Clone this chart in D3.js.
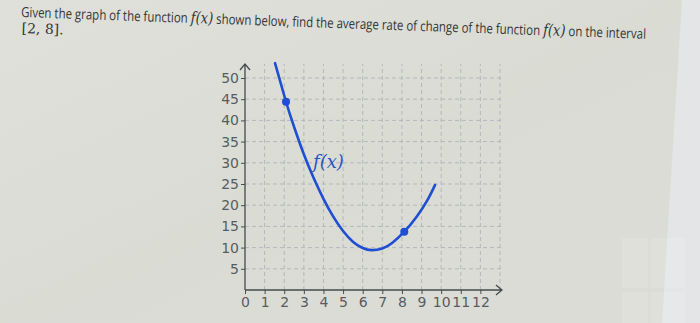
<!DOCTYPE html>
<html>
<head>
<meta charset="utf-8">
<script src="https://cdn.jsdelivr.net/npm/d3@7"></script>
<style>
  html, body { margin: 0; padding: 0; background: #dcddd6; }
  svg { display: block; }
</style>
</head>
<body>
<script>
const xTicks = [0, 1, 2, 3, 4, 5, 6, 7, 8, 9, 10, 11, 12];
const yTicks = [5, 10, 15, 20, 25, 30, 35, 40, 45, 50];
const curveX = [1.53, 2.09, 2.5, 3.0, 3.5, 4.0, 4.5, 5.0, 5.5, 6.0, 6.46, 7.0, 7.5, 8.12, 8.75, 9.3, 9.69];
const curveY = [53.5, 44.4, 38.5, 32.0, 26.4, 21.5, 17.3, 13.9, 11.4, 9.9, 9.4, 9.8, 11.1, 13.75, 17.3, 21.2, 24.8];
const dotX = [2.09, 8.12];
const dotY = [44.4, 13.75];
const titleParts = [
  { t: "Given the graph of the function ", math: false },
  { t: "f(x)", math: true },
  { t: " shown below, find the average rate of change of the function ", math: false },
  { t: "f(x)", math: true },
  { t: " on the interval", math: false }
];
const titleLine2 = "[2, 8].";

const width = 700, height = 323;

const svg = d3.select("body").append("svg")
    .attr("width", width)
    .attr("height", height);

//---------------------------BACKGROUND---------------------------//
const defs = svg.append("defs");
const bg = defs.append("linearGradient").attr("id", "bg")
    .attr("x1", 0).attr("y1", 0).attr("x2", 1).attr("y2", 1);
bg.append("stop").attr("offset", "0%").attr("stop-color", "#e0e0da");
bg.append("stop").attr("offset", "50%").attr("stop-color", "#dadcd4");
bg.append("stop").attr("offset", "100%").attr("stop-color", "#dcdcd6");

svg.append("rect").attr("width", width).attr("height", height).attr("fill", "url(#bg)");
// lighter monitor edge on the right
svg.append("path")
    .attr("d", "M682,0 L700,0 L700,323 L662,323 Z")
    .attr("fill", "#e3e5e6");
// faint window reflection
const panes = [[622, 238, 26, 50], [651, 238, 34, 50], [622, 292, 26, 31], [651, 292, 34, 31]];
svg.selectAll(".pane").data(panes).enter().append("rect")
    .attr("x", d => d[0]).attr("y", d => d[1])
    .attr("width", d => d[2]).attr("height", d => d[3])
    .attr("fill", "#ffffff").attr("opacity", 0.12);

//-----------------------------TITLE------------------------------//
const title = svg.append("g")
    .attr("transform", "translate(21,17) rotate(2)");

const line1 = title.append("text")
    .attr("x", 0).attr("y", 0)
    .attr("fill", "#333537")
    .style("font-family", "'Open Sans', sans-serif")
    .style("font-size", "14px");

titleParts.forEach(p => {
  if (p.math) {
    line1.append("tspan")
        .style("font-family", "'DejaVu Serif', serif")
        .style("font-style", "italic")
        .style("font-size", "16px")
        .text(p.t);
  } else {
    line1.append("tspan").text(p.t.replace(/ /g, "\u00a0"));
  }
});
// the photo text is narrow; squeeze the line to its measured span
const natural = line1.node().getComputedTextLength();
line1.attr("transform", "scale(" + (626 / natural) + ",1)");

title.append("text")
    .attr("x", 1).attr("y", 16)
    .attr("fill", "#333537")
    .style("font-family", "'DejaVu Serif', serif")
    .style("font-size", "14px")
    .text(titleLine2);

//-----------------------------SCALES-----------------------------//
const x = d3.scaleLinear().domain([0, 13]).range([245, 500]);
const y = d3.scaleLinear().domain([0, 50]).range([290, 78]);

//-----------------------------GRID-------------------------------//
const grid = svg.append("g")
    .attr("stroke", "#b3b8bb")
    .attr("stroke-width", 1)
    .attr("stroke-dasharray", "4,3");

grid.selectAll(".gy").data(yTicks).enter().append("line")
    .attr("x1", x(0)).attr("x2", x(13.1))
    .attr("y1", d => y(d)).attr("y2", d => y(d));

grid.selectAll(".gx").data(xTicks.slice(1).concat([13])).enter().append("line")
    .attr("x1", d => x(d)).attr("x2", d => x(d))
    .attr("y1", y(0)).attr("y2", y(53.3));

//-----------------------------AXES-------------------------------//
const axisColor = "#474a4e";
const labelColor = "#585c60";

const xaxis = d3.axisBottom(x)
    .tickValues(xTicks)
    .tickSizeInner(4)
    .tickSizeOuter(0)
    .tickPadding(3);

const yaxis = d3.axisLeft(y)
    .tickValues(yTicks)
    .tickSizeInner(4)
    .tickSizeOuter(0)
    .tickPadding(2);

const gx = svg.append("g")
    .attr("transform", "translate(0," + y(0) + ")")
    .call(xaxis);
const gy = svg.append("g")
    .attr("transform", "translate(" + x(0) + ",0)")
    .call(yaxis);

[gx, gy].forEach(g => {
  g.select(".domain").remove();
  g.selectAll("line").attr("stroke", axisColor);
  g.selectAll("text")
      .attr("fill", labelColor)
      .style("font-family", "'DejaVu Sans', sans-serif")
      .style("font-size", "14px");
});

// axis lines with open arrow heads
const yTop = y(53.3), xEnd = x(13.1);
svg.append("path")
    .attr("d", "M" + x(0) + "," + y(0) + " L" + x(0) + "," + yTop
        + " M" + (x(0) - 5) + "," + (yTop + 6) + " L" + x(0) + "," + yTop + " L" + (x(0) + 5) + "," + (yTop + 6)
        + " M" + x(0) + "," + y(0) + " L" + xEnd + "," + y(0)
        + " M" + (xEnd - 6) + "," + (y(0) - 5) + " L" + xEnd + "," + y(0) + " L" + (xEnd - 6) + "," + (y(0) + 5))
    .attr("fill", "none")
    .attr("stroke", axisColor)
    .attr("stroke-width", 1.3);

//-----------------------------CURVE------------------------------//
const blue = "#1f4ed2";
const pts = curveX.map((v, i) => [v, curveY[i]]);

const line = d3.line()
    .x(d => x(d[0]))
    .y(d => y(d[1]))
    .curve(d3.curveNatural);

svg.append("path")
    .attr("d", line(pts))
    .attr("fill", "none")
    .attr("stroke", blue)
    .attr("stroke-width", 2.6)
    .attr("stroke-linecap", "round");

svg.selectAll(".dot").data(dotX).enter().append("circle")
    .attr("cx", d => x(d))
    .attr("cy", (d, i) => y(dotY[i]))
    .attr("r", 4)
    .attr("fill", blue);

svg.append("text")
    .attr("x", 313)
    .attr("y", 168)
    .attr("fill", "#2c55c4")
    .style("font-family", "'DejaVu Serif', serif")
    .style("font-style", "italic")
    .style("font-size", "18px")
    .text("f(x)");
</script>
</body>
</html>
